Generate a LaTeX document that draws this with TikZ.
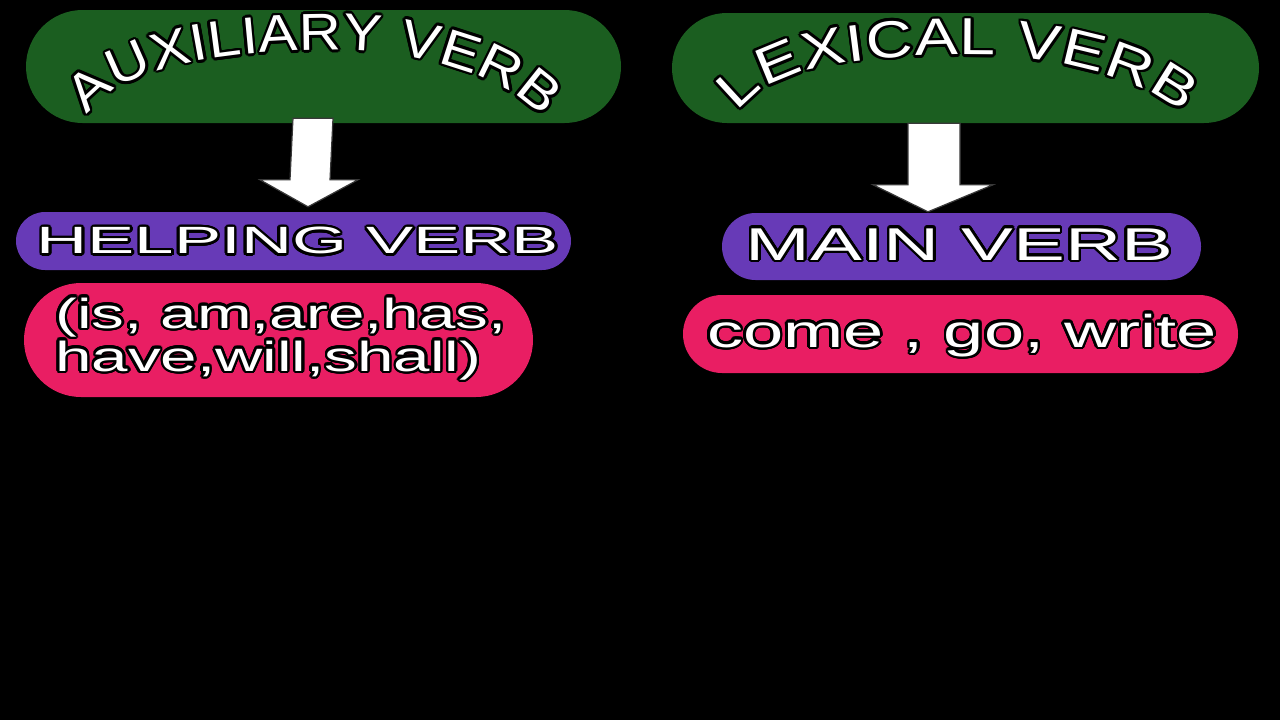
\documentclass[tikz,border=0pt]{standalone}
\usepackage{fontspec}
\usepackage[copies]{contour}
\usetikzlibrary{decorations.text,calc}
\setmainfont{Liberation Sans}
\newfontfamily\fHelp[FakeStretch=1.86]{Liberation Sans}
\newfontfamily\fMain[FakeStretch=1.69]{Liberation Sans}
\newfontfamily\fCome[FakeStretch=1.57]{Liberation Sans}
\newfontfamily\fList[FakeStretch=1.56]{Liberation Sans}
\newfontfamily\fArcA[FakeStretch=1.12]{Liberation Sans}
\newfontfamily\fArcB[FakeStretch=1.24]{Liberation Sans}
\contourlength{2.5pt}
\contournumber{24}
\definecolor{pgreen}{HTML}{1B5E20}
\definecolor{ppurple}{HTML}{673AB7}
\definecolor{ppink}{HTML}{E91E63}
\newcommand\ArcText[3]{%
  \foreach \ang in {0,22.5,...,337.5}{%
    \path[shift={(\ang:2.6)},decorate,decoration={text along path,text align=fit to path,text color=black,text={|#1|#2}}] #3;}%
  \path[decorate,decoration={text along path,text align=fit to path,text color=white,text={|#1|#2}}] #3;}
\tikzset{
  pill/.style={rectangle,rounded corners=#1,inner sep=0pt,draw=none},
  lbl/.style={text=white,inner sep=0pt},
  blockarrow/.style={fill=white,draw=gray!45!black,line width=1.2pt,line join=miter}
}
\begin{document}
\begin{tikzpicture}[x=1pt,y=-1pt]
\fill[black] (0,0) rectangle (1280,720);
\useasboundingbox (0,0) rectangle (1280,720);

% pills
\node[pill=56.5pt,fill=pgreen,minimum width=595pt,minimum height=113pt] (g1) at (323.5,66.5) {};
\node[pill=55pt,fill=pgreen,minimum width=587pt,minimum height=110pt] (g2) at (965.5,68) {};
\node[pill=29pt,fill=ppurple,minimum width=555pt,minimum height=58pt] (p1) at (293.5,241) {};
\node[pill=33.5pt,fill=ppurple,minimum width=479pt,minimum height=67pt] (p2) at (961.5,246.5) {};
\node[pill=57pt,fill=ppink,minimum width=509pt,minimum height=114pt] (k1) at (278.5,340) {};
\node[pill=39pt,fill=ppink,minimum width=555pt,minimum height=78pt] (k2) at (960.5,334) {};

% curved titles
\ArcText{\fArcA\fontsize{52}{58}\selectfont}{AUXILIARY VERB}{(88,116) .. controls (121,64) and (232,50) .. (340,50) .. controls (410,50) and (500,72) .. (543,118)}
\ArcText{\fArcB\fontsize{52}{58}\selectfont}{LEXICAL VERB}{(738,113) .. controls (771,63) and (872,55) .. (975,55) .. controls (1045,55) and (1140,76) .. (1183,114)}

% arrows
\fill[blockarrow] ($(g1.south)+(-30.5,-5)$) -- ($(p1.north)+(-3.5,-32)$) -- ($(p1.north)+(-33.5,-32)$)
  -- ($(p1.north)+(14.5,-5)$) -- ($(p1.north)+(64.5,-32)$) -- ($(p1.north)+(36.5,-32)$)
  -- ($(g1.south)+(9.5,-5)$) -- cycle;
\fill[blockarrow] ($(g2.south)+(-57.5,0)$) -- ($(p2.north)+(-53.5,-28)$) -- ($(p2.north)+(-88.5,-28)$)
  -- ($(p2.north)+(-33.5,-1)$) -- ($(p2.north)+(31.5,-28)$) -- ($(p2.north)+(-1.5,-28)$)
  -- ($(g2.south)+(-5.5,0)$) -- cycle;

% labels
\node[lbl,font=\fHelp\fontsize{38}{40}\selectfont] (t1) at (298,242) {\contour{black}{HELPING VERB}};
\node[lbl,font=\fMain\fontsize{46}{50}\selectfont] (t2) at (959.5,245.5) {\contour{black}{MAIN VERB}};
\node[lbl,anchor=west,align=left,font=\fList\fontsize{42}{43}\selectfont] (t3) at (55,340)
  {\contour{black}{(is, am,are,has,}\\\contour{black}{have,will,shall)}};
\node[lbl,font=\fCome\fontsize{46}{50}\selectfont] (t4) at (962,336.4) {\contour{black}{come , go, write}};
\end{tikzpicture}
\end{document}
